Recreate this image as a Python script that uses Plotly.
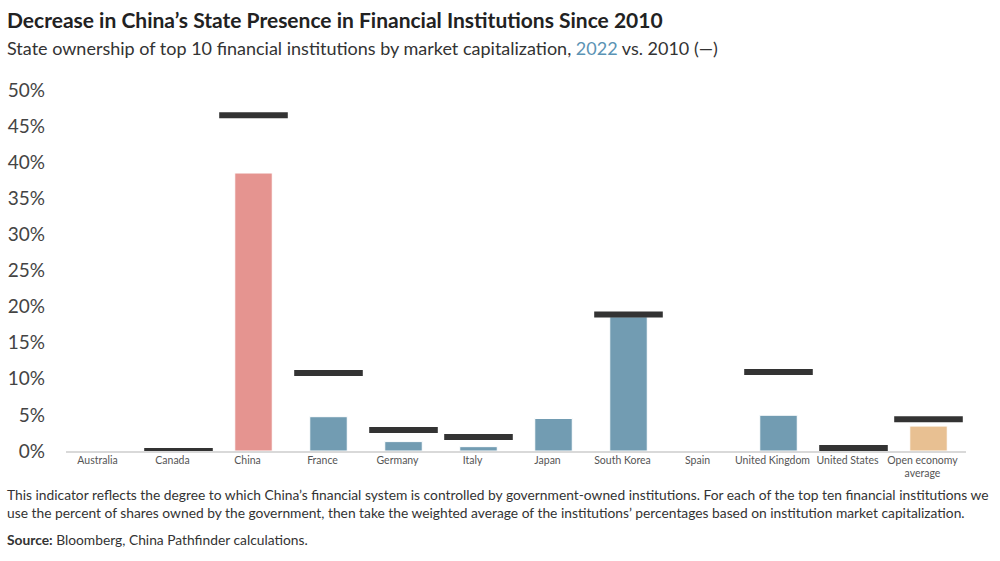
import plotly.graph_objects as go

countries = ["Australia", "Canada", "China", "France", "Germany", "Italy", "Japan",
             "South Korea", "Spain", "United Kingdom", "United States", "Open economy<br>average"]
share_2022 = [0, 0, 38.5, 4.75, 1.3, 0.6, 4.5, 18.6, 0, 4.95, 0, 3.45]
share_2010 = [None, 0, 46.5, 10.8, 2.9, 1.95, None, 18.9, None, 10.95, 0.4, 4.4]
bar_colors = ["#729cb2", "#729cb2", "#e59490", "#729cb2", "#729cb2", "#729cb2", "#729cb2",
              "#729cb2", "#729cb2", "#729cb2", "#729cb2", "#e8c092"]
y_ticks = [0, 5, 10, 15, 20, 25, 30, 35, 40, 45, 50]
y_labels = [f"{t}%" for t in y_ticks]

FONT = "Lato"

fig = go.Figure()
fig.add_trace(go.Bar(
    x=countries, y=share_2022, width=0.5,
    marker=dict(color=bar_colors, line=dict(color="white", width=1)),
    name="2022", hoverinfo="x+y",
))
fig.add_trace(go.Scatter(
    x=countries, y=share_2010, mode="markers", name="2010",
    marker=dict(symbol="line-ew", size=49, line=dict(color="#333333", width=6)),
    cliponaxis=True,
))

fig.update_layout(
    width=1000, height=561,
    margin=dict(l=66, r=34, t=90, b=110),
    paper_bgcolor="white", plot_bgcolor="white",
    showlegend=False,
    font=dict(family=FONT, color="#333333"),
)
fig.update_xaxes(
    range=[-0.5, len(countries) - 0.5],
    showline=True, linecolor="#d9d9d9", linewidth=2, automargin=False, layer="above traces",
    showgrid=False, ticks="", tickangle=0, tickfont=dict(size=10.5, color="#555555"),
    ticklabelshift=-6, ticklabelstandoff=-2,
)
fig.update_yaxes(
    range=[0, 50], tickmode="array", tickvals=y_ticks, ticktext=y_labels, automargin=False,
    showgrid=False, zeroline=False, showline=False, ticks="",
    tickfont=dict(size=19, color="#444444"), ticklabelstandoff=20,
)

fig.add_annotation(
    text="<b>Decrease in China’s State Presence in Financial Institutions Since 2010</b>",
    xref="paper", yref="paper", x=-0.0678, y=1.194, xanchor="left", yanchor="middle",
    showarrow=False, font=dict(size=21, color="#222222"),
)
fig.add_annotation(
    text="State ownership of top 10 financial institutions by market capitalization, "
         "<span style='color:#5b93b4'>2022</span> vs. 2010 (—)",
    xref="paper", yref="paper", x=-0.0678, y=1.116, xanchor="left", yanchor="middle",
    showarrow=False, font=dict(size=18, color="#333333"),
)
fig.add_annotation(
    text="This indicator reflects the degree to which China’s financial system is controlled by "
         "government-owned institutions. For each of the top ten financial institutions we<br>"
         "use the percent of shares owned by the government, then take the weighted average of the "
         "institutions’ percentages based on institution market capitalization.",
    xref="paper", yref="paper", x=-0.0678, y=-0.1454, xanchor="left", yanchor="middle",
    align="left", showarrow=False, font=dict(size=13.8, color="#333333"),
)
fig.add_annotation(
    text="<b>Source:</b> Bloomberg, China Pathfinder calculations.",
    xref="paper", yref="paper", x=-0.0678, y=-0.2465, xanchor="left", yanchor="middle",
    showarrow=False, font=dict(size=13.8, color="#333333"),
)

# drop the default page margin so the figure sits at the window corner
fig.write_html("out.html", config={"displayModeBar": False},
               post_script="document.body.style.margin = '0';")
